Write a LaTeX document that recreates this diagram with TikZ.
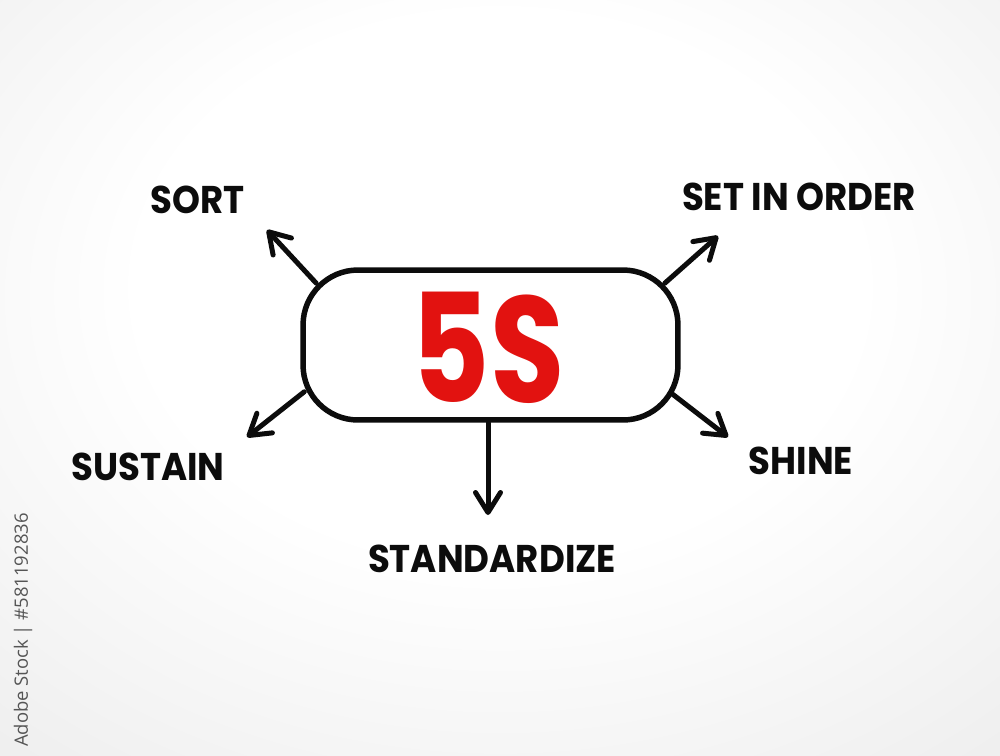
\documentclass[tikz,border=0pt]{standalone}
\usepackage{fontspec}
\setmainfont{Poppins}
\newfontfamily\wmfont{Open Sans}
\usetikzlibrary{arrows.meta,calc}
\definecolor{fiveS}{RGB}{226,18,16}
\definecolor{ink}{RGB}{12,12,12}
\definecolor{wmgray}{RGB}{85,85,85}
\pgfdeclareradialshading{bgshade}{\pgfpoint{0bp}{8bp}}{%
  color(0bp)=(white); color(18bp)=(white); color(40bp)=(black!7); color(60bp)=(black!13); color(75bp)=(black!17)}
\begin{document}
\begin{tikzpicture}[x=0.02cm,y=-0.02cm,
  lbl/.style={font=\fontsize{22}{24}\selectfont\bfseries, text=ink, inner sep=0pt, xscale=0.92},
  arr/.style={draw=ink, line width=0.1cm, line cap=round, line join=round,
              -{Straight Barb[length=0.4cm,width=0.5cm,line cap=round,line join=round]}},
  boxstyle/.style={draw=ink, line width=0.11cm, rounded corners=1.1cm, fill=white,
              minimum width=7.5cm, minimum height=3cm, inner sep=0pt}]
\useasboundingbox (0,0) rectangle (1000,755);
\shade[shading=bgshade] (0,0) rectangle (1000,755);

% central box
\node[boxstyle] (box) at (490.5,345) {};
\node[font=\fontsize{86}{90}\selectfont\bfseries, text=fiveS, inner sep=0pt, xscale=0.8] (fives) at (488,348) {5S};

% labels
\node[lbl] (sort) at (198,200) {SORT};
\node[lbl] (setorder) at (799,197) {SET IN ORDER};
\node[lbl] (sustain) at (148,467) {SUSTAIN};
\node[lbl] (shine) at (801,461) {SHINE};
\node[lbl] (standard) at (492,559) {STANDARDIZE};

% arrow tips
\coordinate (tSort) at (267,230);
\coordinate (tSet) at (718,236);
\coordinate (tSus) at (247,437);
\coordinate (tShine) at (728,437);
\coordinate (tStd) at (488,515);

\draw[arr] ([shift={(16,16)}]box.north west) -- (tSort);
\draw[arr] ([shift={(-16,16)}]box.north east) -- (tSet);
\draw[arr] ([shift={(4,-31)}]box.south west) -- (tSus);
\draw[arr] ([shift={(-10,-30)}]box.south east) -- (tShine);
\draw[arr] ([shift={(-2.5,0)}]box.south) -- (tStd);

% side credit
\node[font=\wmfont\fontsize{10.5}{12}\selectfont, text=wmgray, rotate=90, inner sep=0pt] (credit) at (23,630) {Adobe Stock | \#581192836};
\end{tikzpicture}
\end{document}
